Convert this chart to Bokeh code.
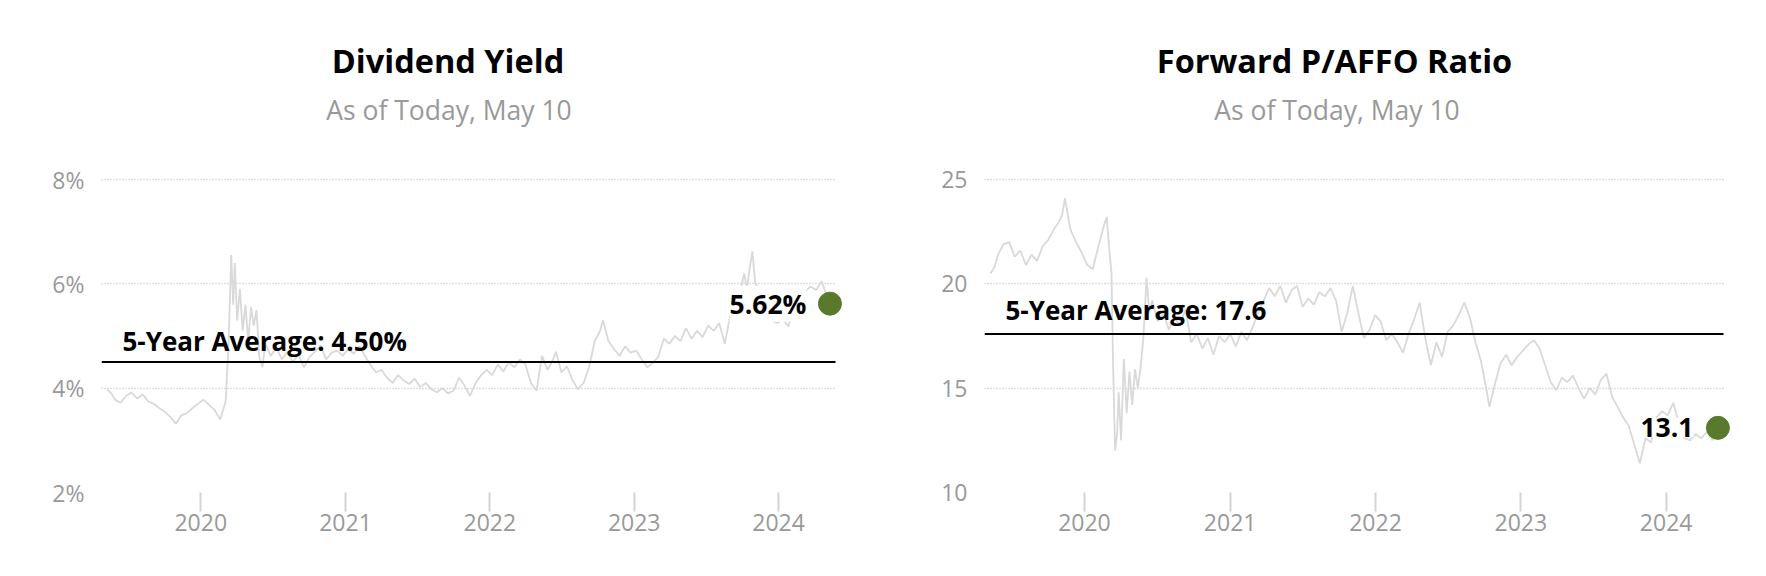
import pandas as pd
from datetime import datetime
from bokeh.plotting import figure
from bokeh.layouts import row
from bokeh.models import (Range1d, FixedTicker, PrintfTickFormatter, DatetimeTickFormatter,
                          Label, ColumnDataSource)
from bokeh.embed import file_html
from bokeh.resources import INLINE

FONT = "Open Sans"

# ---------------- data ----------------
dy_dates = ["2019-05-10","2019-05-20","2019-05-29","2019-06-12","2019-06-26","2019-07-10","2019-07-24",
            "2019-08-07","2019-08-21","2019-09-04","2019-09-18","2019-10-02","2019-10-16","2019-10-30",
            "2019-11-13","2019-11-27","2019-12-11","2019-12-25","2020-01-08","2020-01-22","2020-02-05",
            "2020-02-19","2020-03-04","2020-03-11","2020-03-18","2020-03-23","2020-03-27","2020-04-02",
            "2020-04-09","2020-04-16","2020-04-23","2020-04-30","2020-05-07","2020-05-14","2020-05-21",
            "2020-05-28","2020-06-05","2020-06-12","2020-06-26","2020-07-10","2020-07-24","2020-08-07",
            "2020-08-21","2020-09-04","2020-09-18","2020-10-02","2020-10-16","2020-10-30","2020-11-13",
            "2020-11-27","2020-12-11","2020-12-25","2021-01-08","2021-01-22","2021-02-05","2021-02-19",
            "2021-03-05","2021-03-19","2021-04-02","2021-04-16","2021-04-30","2021-05-14","2021-05-28",
            "2021-06-11","2021-06-25","2021-07-09","2021-07-23","2021-08-06","2021-08-20","2021-09-03",
            "2021-09-17","2021-10-01","2021-10-15","2021-10-29","2021-11-12","2021-11-26","2021-12-10",
            "2021-12-24","2022-01-07","2022-01-21","2022-02-04","2022-02-18","2022-03-04","2022-03-18",
            "2022-04-01","2022-04-15","2022-04-29","2022-05-13","2022-05-27","2022-06-10","2022-06-17",
            "2022-07-01","2022-07-15","2022-07-29","2022-08-12","2022-08-26","2022-09-09","2022-09-23",
            "2022-10-07","2022-10-14","2022-10-28","2022-11-11","2022-11-25","2022-12-09","2022-12-23",
            "2023-01-06","2023-01-20","2023-02-03","2023-02-17","2023-03-03","2023-03-17","2023-03-31",
            "2023-04-14","2023-04-28","2023-05-12","2023-05-26","2023-06-09","2023-06-23","2023-07-07",
            "2023-07-21","2023-08-04","2023-08-18","2023-09-01","2023-09-15","2023-09-29","2023-10-06",
            "2023-10-13","2023-10-20","2023-10-27","2023-11-03","2023-11-10","2023-11-17","2023-12-01",
            "2023-12-15","2023-12-29","2024-01-12","2024-01-26","2024-02-09","2024-02-23","2024-03-08",
            "2024-03-22","2024-04-05","2024-04-19","2024-05-03","2024-05-10"]
dy_vals = [3.97,3.90,3.78,3.72,3.85,3.92,3.80,
           3.88,3.75,3.70,3.62,3.55,3.45,3.32,
           3.48,3.52,3.62,3.70,3.78,3.68,3.58,
           3.40,3.75,4.80,6.55,5.60,6.40,5.30,
           5.90,5.10,5.60,4.90,5.55,5.20,5.50,
           4.60,4.40,4.85,4.62,4.78,4.55,4.70,
           4.50,4.65,4.40,4.60,4.70,4.82,4.55,
           4.68,4.72,4.62,4.75,4.66,4.80,4.62,
           4.45,4.30,4.35,4.20,4.10,4.25,4.15,
           4.08,4.18,4.02,4.10,3.98,3.92,4.00,
           3.90,3.95,4.20,4.05,3.85,4.10,4.25,
           4.35,4.25,4.45,4.32,4.50,4.40,4.55,
           4.45,4.10,3.95,4.62,4.35,4.55,4.70,
           4.30,4.42,4.15,3.98,4.10,4.40,4.90,
           5.10,5.30,4.90,4.75,4.62,4.80,4.68,
           4.72,4.55,4.40,4.48,4.60,4.95,4.85,
           5.00,4.90,5.15,4.95,5.10,4.98,5.20,
           5.10,5.25,4.85,5.40,5.70,5.95,6.20,
           5.90,6.30,6.62,6.00,5.95,5.65,5.45,
           5.30,5.25,5.32,5.18,5.65,5.90,5.85,
           5.95,5.88,6.05,5.75,5.62]
dy_avg = 4.50
dy_ticks = [2, 4, 6, 8]

pa_dates = ["2019-05-10","2019-05-20","2019-05-29","2019-06-12","2019-06-26","2019-07-10","2019-07-24",
            "2019-08-07","2019-08-21","2019-09-04","2019-09-18","2019-10-02","2019-10-16","2019-10-30",
            "2019-11-06","2019-11-13","2019-11-27","2019-12-11","2019-12-25","2020-01-08","2020-01-22",
            "2020-02-05","2020-02-19","2020-02-26","2020-03-04","2020-03-09","2020-03-13","2020-03-18",
            "2020-03-23","2020-03-27","2020-04-02","2020-04-09","2020-04-16","2020-04-23","2020-04-30",
            "2020-05-07","2020-05-14","2020-05-21","2020-05-28","2020-06-05","2020-06-12","2020-06-19",
            "2020-07-03","2020-07-17","2020-07-31","2020-08-14","2020-08-28","2020-09-11","2020-09-25",
            "2020-10-09","2020-10-23","2020-11-06","2020-11-20","2020-12-04","2020-12-18","2021-01-01",
            "2021-01-15","2021-01-29","2021-02-12","2021-02-26","2021-03-12","2021-03-26","2021-04-09",
            "2021-04-23","2021-05-07","2021-05-21","2021-06-04","2021-06-18","2021-07-02","2021-07-16",
            "2021-07-30","2021-08-13","2021-08-27","2021-09-10","2021-09-24","2021-10-08","2021-10-22",
            "2021-11-05","2021-11-19","2021-12-03","2021-12-17","2021-12-31","2022-01-14","2022-01-28",
            "2022-02-11","2022-02-25","2022-03-11","2022-03-25","2022-04-08","2022-04-22","2022-05-06",
            "2022-05-20","2022-06-03","2022-06-17","2022-07-01","2022-07-15","2022-07-29","2022-08-12",
            "2022-08-26","2022-09-09","2022-09-23","2022-10-07","2022-10-14","2022-10-28","2022-11-11",
            "2022-11-25","2022-12-09","2022-12-23","2023-01-06","2023-01-20","2023-02-03","2023-02-17",
            "2023-03-03","2023-03-17","2023-03-31","2023-04-14","2023-04-28","2023-05-12","2023-05-26",
            "2023-06-09","2023-06-23","2023-07-07","2023-07-21","2023-08-04","2023-08-18","2023-09-01",
            "2023-09-15","2023-09-29","2023-10-13","2023-10-27","2023-11-10","2023-11-24","2023-12-08",
            "2023-12-22","2024-01-05","2024-01-19","2024-02-02","2024-02-16","2024-03-01","2024-03-15",
            "2024-03-29","2024-04-12","2024-04-26","2024-05-10"]
pa_vals = [20.5,20.8,21.4,21.9,22.0,21.3,21.6,
           20.9,21.4,21.1,21.8,22.1,22.6,23.0,
           23.3,24.1,22.6,22.0,21.5,20.9,20.7,
           21.8,22.8,23.2,21.5,20.5,16.0,12.0,
           12.8,14.8,12.5,16.4,13.8,15.8,14.2,
           15.9,15.0,16.0,17.4,20.3,18.6,19.2,
           18.2,18.6,17.8,18.4,18.0,18.8,17.2,
           17.6,16.9,17.4,16.6,17.5,17.2,17.6,
           17.0,17.7,17.3,17.9,18.6,19.2,19.8,
           19.4,19.9,19.1,19.7,19.9,18.9,19.3,
           19.0,19.6,19.4,19.8,19.2,17.7,18.6,
           19.9,18.6,17.4,17.8,18.5,18.2,17.3,
           17.6,17.2,16.7,17.6,18.3,19.1,17.4,
           16.1,17.2,16.5,17.7,18.0,18.5,19.1,
           18.4,17.2,16.3,14.9,14.1,15.2,16.2,
           16.6,16.1,16.5,16.8,17.1,17.3,16.9,
           16.1,15.3,14.9,15.5,15.3,15.6,15.0,
           14.5,15.0,14.7,15.4,15.7,14.6,14.1,
           13.6,13.2,12.3,11.4,12.6,12.4,13.6,
           13.9,13.7,14.3,13.3,12.6,12.5,12.8,
           12.6,12.9,12.5,13.1]
pa_avg = 17.6
pa_ticks = [10, 15, 20, 25]

year_ticks = [2020, 2021, 2022, 2023, 2024]
x_start = datetime(2019, 4, 25)
x_grid_end = datetime(2024, 5, 24)

GREEN = "#5a7a2b"
GRAY_TXT = "#999999"

FIG_H = 556
FRAME_TOP = 6       # figure px
GRID_TOP = 179      # figure px of top tick (gridline)
GRID_BOT = 492      # figure px of bottom tick = frame bottom
EXTRA_R = 8         # frame extends this far past the gridlines so the dot is whole


def make_chart(title, subtitle, dates, vals, avg, yticks, fmt, avg_text, last_text,
               fig_w, grid_w, b_left, title_x, sub_x, avg_dy, last_gap):
    d = pd.to_datetime(dates)
    src = ColumnDataSource(dict(x=d, y=vals))

    frame_w = grid_w + EXTRA_R
    grid_h = GRID_BOT - GRID_TOP
    x0 = pd.Timestamp(x_start)
    x1g = pd.Timestamp(x_grid_end)
    x1f = x1g + (x1g - x0) * (EXTRA_R / grid_w)
    per_px = (yticks[-1] - yticks[0]) / grid_h
    y1f = yticks[-1] + (GRID_TOP - FRAME_TOP) * per_px

    p = figure(width=fig_w, height=FIG_H, x_axis_type="datetime",
               x_range=Range1d(x0, x1f), y_range=Range1d(yticks[0], y1f),
               output_backend="svg", toolbar_location=None,
               min_border_left=b_left, min_border_right=fig_w - b_left - frame_w,
               min_border_top=FRAME_TOP, min_border_bottom=FIG_H - GRID_BOT)
    p.outline_line_color = None
    p.background_fill_color = "white"

    # titles (screen units, measured from the frame's bottom-left)
    p.add_layout(Label(x=title_x, y=GRID_BOT - 60, x_units="screen", y_units="screen",
                       text=title, text_align="center", text_baseline="alphabetic",
                       text_font=FONT, text_font_size="32.5px", text_font_style="bold",
                       text_color="#000000"))
    p.add_layout(Label(x=sub_x, y=GRID_BOT - 109, x_units="screen", y_units="screen",
                       text=subtitle, text_align="center", text_baseline="alphabetic",
                       text_font=FONT, text_font_size="26.5px", text_font_style="normal",
                       text_color=GRAY_TXT))

    # axes
    p.yaxis.ticker = FixedTicker(ticks=yticks)
    p.yaxis.formatter = PrintfTickFormatter(format=fmt)
    p.yaxis.axis_line_color = None
    p.yaxis.major_tick_line_color = None
    p.yaxis.minor_tick_line_color = None
    p.yaxis.major_tick_in = 0
    p.yaxis.major_tick_out = 0
    p.yaxis.major_label_standoff = 17
    p.yaxis.major_label_text_font = FONT
    p.yaxis.major_label_text_font_size = "23px"
    p.yaxis.major_label_text_color = GRAY_TXT

    tick_ms = [pd.Timestamp(f"{y}-01-01").value / 1e6 for y in year_ticks]
    p.xaxis.ticker = FixedTicker(ticks=tick_ms)
    p.xaxis.formatter = DatetimeTickFormatter(years="%Y", months="%Y", days="%Y", hours="%Y")
    p.xaxis.axis_line_color = None
    p.xaxis.minor_tick_line_color = None
    p.xaxis.major_tick_line_color = "#d4d4d4"
    p.xaxis.major_tick_line_width = 2
    p.xaxis.major_tick_in = 0
    p.xaxis.major_tick_out = 19
    p.xaxis.major_label_standoff = 2
    p.xaxis.major_label_text_font = FONT
    p.xaxis.major_label_text_font_size = "23px"
    p.xaxis.major_label_text_color = GRAY_TXT

    p.xgrid.grid_line_color = None
    g = p.ygrid[0]
    g.grid_line_color = "#bdbdbd"
    g.grid_line_dash = "1 2"
    g.grid_line_width = 1.3
    if "cross_bounds" in g.properties():
        g.cross_bounds = (x0.value / 1e6, x1g.value / 1e6)

    p.line("x", "y", source=src, line_color="#d9d9d9", line_width=1.8)

    # 5-year average line across the gridline extent
    p.segment(x0=[x0], y0=[avg], x1=[x1g], y1=[avg], line_color="#000000", line_width=2)
    p.add_layout(Label(x=x0, y=avg, x_offset=21, y_offset=avg_dy, text=avg_text,
                       text_font=FONT, text_font_size="26px", text_font_style="bold",
                       text_color="#000000", text_baseline="alphabetic", text_align="left"))

    # latest value
    p.scatter([d[-1]], [vals[-1]], size=23, fill_color=GREEN, line_color=GREEN)
    p.add_layout(Label(x=d[-1], y=vals[-1], x_offset=-(11.5 + last_gap), y_offset=0,
                       text=last_text, text_font=FONT, text_font_size="26.5px",
                       text_font_style="bold", text_color="#000000",
                       text_baseline="middle", text_align="right",
                       background_fill_color="white"))
    return p


p1 = make_chart("Dividend Yield", "As of Today, May 10", dy_dates, dy_vals, dy_avg, dy_ticks,
                "%d%%", f"5-Year Average: {dy_avg:.2f}%", f"{dy_vals[-1]:.2f}%",
                883, 734, 101, 346.5, 347.5, 21, 12)
p2 = make_chart("Forward P/AFFO Ratio", "As of Today, May 10", pa_dates, pa_vals, pa_avg, pa_ticks,
                "%d", f"5-Year Average: {pa_avg:.1f}", f"{pa_vals[-1]:.1f}",
                875, 739, 101, 350, 352.5, 24, 13)

layout = row(p1, p2)
open("out.html", "w").write(file_html(layout, INLINE))
